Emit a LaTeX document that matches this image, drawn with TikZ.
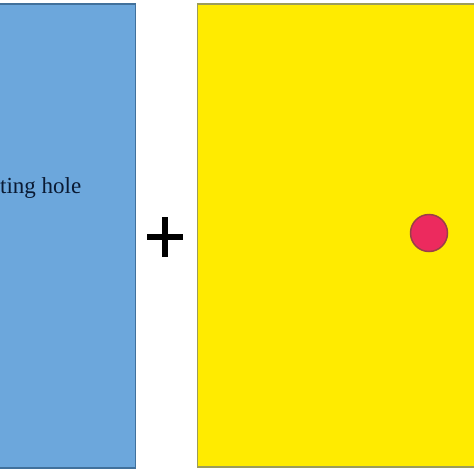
\documentclass[tikz,border=0pt]{standalone}
\usepackage{fontspec}
\setmainfont{Liberation Serif}
\definecolor{bluefill}{HTML}{6CA7DC}
\definecolor{blueline}{HTML}{41719C}
\definecolor{yelfill}{HTML}{FFEB00}
\definecolor{yelline}{HTML}{9C9C5A}
\definecolor{holefill}{HTML}{EC2A5E}
\definecolor{holeline}{HTML}{9A4048}
\definecolor{textcol}{HTML}{0A1A33}
\tikzset{
  panel/.style={draw=#1, line width=1.2pt},
  plusbar/.style={line width=5.5pt, draw=black}
}
\begin{document}
\begin{tikzpicture}[x=1pt,y=-1pt]
\useasboundingbox (0,0) rectangle (474,474);
\fill[white] (0,0) rectangle (474,474);
\begin{scope}
\clip (0,0) rectangle (474,474);
\filldraw[panel=blueline, fill=bluefill] (-10,4) rectangle (135.5,468);
\filldraw[panel=yelline, fill=yelfill] (197.5,4) rectangle (484,467);
\node[anchor=base east, inner sep=0pt, text=textcol, font=\fontsize{23}{26}\selectfont] (label) at (81.5,193) {ting hole};
\node[circle, draw=holeline, line width=1.5pt, fill=holefill, minimum size=37pt, inner sep=0pt] (hole) at (429,233) {};
\coordinate (pl) at (147,237);
\coordinate (pr) at (183,237);
\coordinate (pt) at (165,217);
\coordinate (pb) at (165,257);
\draw[plusbar] (pl) -- (pr);
\draw[plusbar] (pt) -- (pb);
\end{scope}
\end{tikzpicture}
\end{document}
